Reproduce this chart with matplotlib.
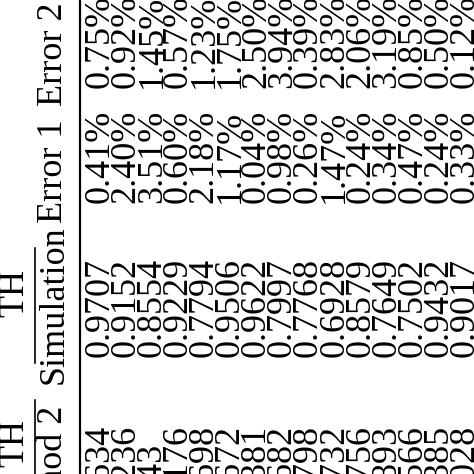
import matplotlib
matplotlib.use("Agg")
import matplotlib.pyplot as plt

method2 = ["0.9634","0.9236","0.843","0.9176","0.7698","0.9672","0.9381","0.7682",
           "0.7798","0.6732","0.8756","0.7893","0.7566","0.9385","0.9028"]
simulation = ["0.9707","0.9152","0.8554","0.9229","0.7794","0.9506","0.9622","0.7997",
              "0.7768","0.6928","0.8579","0.7649","0.7502","0.9432","0.9017"]
error1 = ["0.41%","2.40%","3.51%","0.60%","2.18%","1.17%","0.04%","0.98%",
          "0.26%","1.47%","0.24%","0.34%","0.47%","0.24%","0.33%"]
error2 = ["0.75%","0.92%","1.45%","0.57%","1.23%","1.75%","2.50%","3.94%",
          "0.39%","2.83%","2.06%","3.19%","0.85%","0.50%","0.12%"]
headers = ["Method 2", "Simulation", "Error 1", "Error 2"]
columns = [method2, simulation, error1, error2]

fig = plt.figure(figsize=(4.74, 4.74), dpi=100)
ax = fig.add_axes([0, 0, 1, 1])
ax.set_xlim(0, 474); ax.set_ylim(474, 0); ax.axis("off")
font = dict(family="Liberation Serif", fontsize=26, rotation=90, color="black")

bottoms = [524, 357, 203, 88]       # column baseline positions (text start)
hdr_centers = [475, 305, 171, 54]
row_x0, row_dx = 100, 26.07
for col, vals, b, hc in zip(headers, columns, bottoms, hdr_centers):
    ax.text(54, hc, col, ha="center", va="center", clip_on=True, **font)
    for i, v in enumerate(vals):
        ax.text(row_x0 + i * row_dx, b, v, ha="center", va="bottom", clip_on=True, **font)

# group headers "TH"
ax.text(15, 443, "TH", ha="center", va="center", clip_on=True, **font)
ax.text(15, 293, "TH", ha="center", va="center", clip_on=True, **font)
ax.plot([35, 35], [400, 474], color="black", lw=1.2)
ax.plot([35, 35], [248, 363], color="black", lw=1.2)
ax.plot([80, 80], [0, 474], color="black", lw=1.6)

fig.savefig("out.png", dpi=100)
